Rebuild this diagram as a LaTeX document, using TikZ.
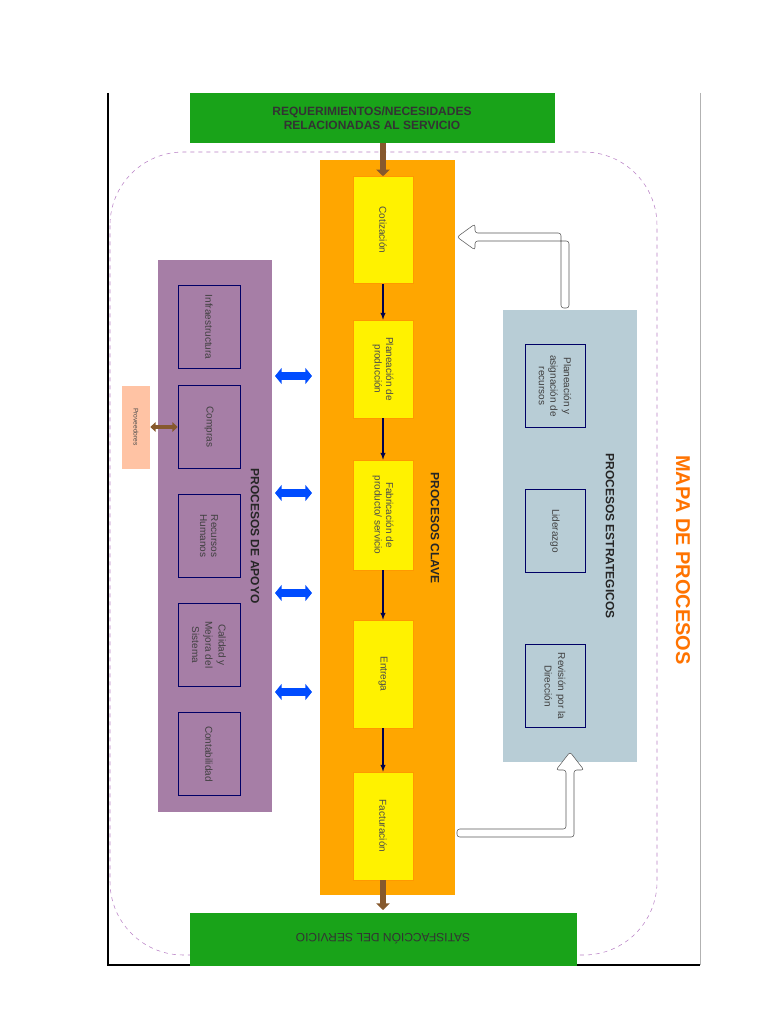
\documentclass[tikz,border=0pt]{standalone}
\usepackage{fontspec}
\setmainfont{Liberation Sans}
\begin{document}
\begin{tikzpicture}[x=0.75pt,y=-0.75pt,
 ybox/.style={draw=orange!80!yellow,fill=yellow,minimum width=60*0.75pt,align=center,font=\fontsize{7.5}{8.5}\selectfont,text=black!70},
 ibox/.style={draw=blue!40!black,minimum width=62*0.75pt,minimum height=83*0.75pt,align=center,font=\fontsize{7.5}{8.5}\selectfont,text=black!75},
 flow/.style={draw=blue!30!black,thick,-latex},
 brown/.style={draw=brown!70!black,line width=5pt,-{Triangle[length=5pt,width=10pt]}},
 blu/.style={draw=blue!70!cyan,line width=6pt,{Triangle[length=5pt,width=12pt]}-{Triangle[length=5pt,width=12pt]}},
 ttl/.style={font=\bfseries\fontsize{9}{10}\selectfont,text=black!85}]
\usetikzlibrary{arrows.meta}
\useasboundingbox (0,0) rectangle (768,1024);
\fill[white] (0,0) rectangle (768,1024);
% frame
\draw[line width=1pt] (108,93) -- (108,965) -- (700,965);
\draw[gray!60] (700,93) -- (700,965);
% dashed region
\draw[blue!40!purple!50,dashed] (110,152) [rounded corners=55pt] rectangle (657,955);
% green boxes
\node[fill=green!60!black!90,minimum width=365*0.75pt,minimum height=49*0.75pt,align=center,font=\bfseries\fontsize{9}{10.5}\selectfont,text=black!80] (req) at (372,118) {REQUERIMIENTOS/NECESIDADES\\RELACIONADAS AL SERVICIO};
\node[fill=green!60!black!90,minimum width=387*0.75pt,minimum height=53*0.75pt,font=\fontsize{9}{10.5}\selectfont,text=black!80] (sat) at (383,939) {\rotatebox{180}{SATISFACCIÓN DEL SERVICIO}};
% columns
\fill[orange!40!yellow!90!orange] (320,160) rectangle (455,895);
\fill[orange!70!yellow] (320,160) rectangle (455,895);
\node[ttl,rotate=-90] (pc) at (435,528) {PROCESOS CLAVE};
\fill[violet!45!gray!70] (158,260) rectangle (272,812);
\node[ttl,rotate=-90] (pa) at (255,536) {PROCESOS DE APOYO};
\fill[cyan!30!gray!50] (503,310) rectangle (637,762);
\node[ttl,rotate=-90] (pe) at (610,536) {PROCESOS ESTRATEGICOS};
\node[rotate=-90,font=\bfseries\fontsize{15}{16}\selectfont,text=orange!90!red] (mapa) at (683,560) {MAPA DE PROCESOS};
% key processes
\node[ybox,minimum height=107*0.75pt] (c1) at (383,230) {\rotatebox{-90}{Cotización}};
\node[ybox,minimum height=98*0.75pt] (c2) at (383,369) {\rotatebox{-90}{\shortstack{Planeación de\\producción}}};
\node[ybox,minimum height=110*0.75pt] (c3) at (383,515) {\rotatebox{-90}{\shortstack{Fabricación de\\producto/ servicio}}};
\node[ybox,minimum height=108*0.75pt] (c4) at (383,674) {\rotatebox{-90}{Entrega}};
\node[ybox,minimum height=108*0.75pt] (c5) at (383,826) {\rotatebox{-90}{Facturación}};
\draw[flow] (c1) -- (c2);
\draw[flow] (c2) -- (c3);
\draw[flow] (c3) -- (c4);
\draw[flow] (c4) -- (c5);
\draw[brown] (req.south -| c1) -- (c1.north);
\coordinate (b0) at (383,910);
\draw[brown] (c5.south) -- (b0);
% support
\node[ibox] (s1) at (209,327) {\rotatebox{-90}{Infraestructura}};
\node[ibox] (s2) at (209,427) {\rotatebox{-90}{Compras}};
\node[ibox] (s3) at (209,536) {\rotatebox{-90}{\shortstack{Recursos\\Humanos}}};
\node[ibox] (s4) at (209,645) {\rotatebox{-90}{\shortstack{Calidad y\\Mejora del\\Sistema}}};
\node[ibox] (s5) at (209,754) {\rotatebox{-90}{Contabilidad}};
\node[fill=orange!35!pink!70,minimum width=28*0.75pt,minimum height=83*0.75pt,font=\fontsize{5}{6}\selectfont,text=black!70] (prov) at (136,427) {\rotatebox{-90}{Proveedores}};
\draw[draw=brown!70!black,line width=2.5pt,{Triangle[length=4pt,width=7pt]}-{Triangle[length=4pt,width=7pt]}] (prov.east) -- (s2.west);
% blue arrows
\foreach \y/\n in {376/a,493/b,593/c,692/d}{
 \coordinate (l\n) at (275,\y); \coordinate (r\n) at (312,\y);
 \draw[blu] (l\n) -- (r\n);}
% strategic
\node[ibox,minimum width=60*0.75pt] (e1) at (555,386) {\rotatebox{-90}{\shortstack{Planeación y\\asignación de\\recursos}}};
\node[ibox,minimum width=60*0.75pt] (e2) at (555,531) {\rotatebox{-90}{Liderazgo}};
\node[ibox,minimum width=60*0.75pt] (e3) at (555,686) {\rotatebox{-90}{\shortstack{Revisión por la\\Dirección}}};
% hollow arrows
\draw[gray!70!black,fill=white,rounded corners=2pt] (457,237) -- (475,224) -- (475,233) -- (561,233) -- (561,308) -- (569,308) -- (569,241) -- (475,241) -- (475,250) -- cycle;
\draw[gray!70!black,fill=white,rounded corners=2pt] (457,829) -- (566,829) -- (566,770) -- (556,770) -- (570,752) -- (584,770) -- (574,770) -- (574,837) -- (457,837) -- cycle;
\end{tikzpicture}
\end{document}
